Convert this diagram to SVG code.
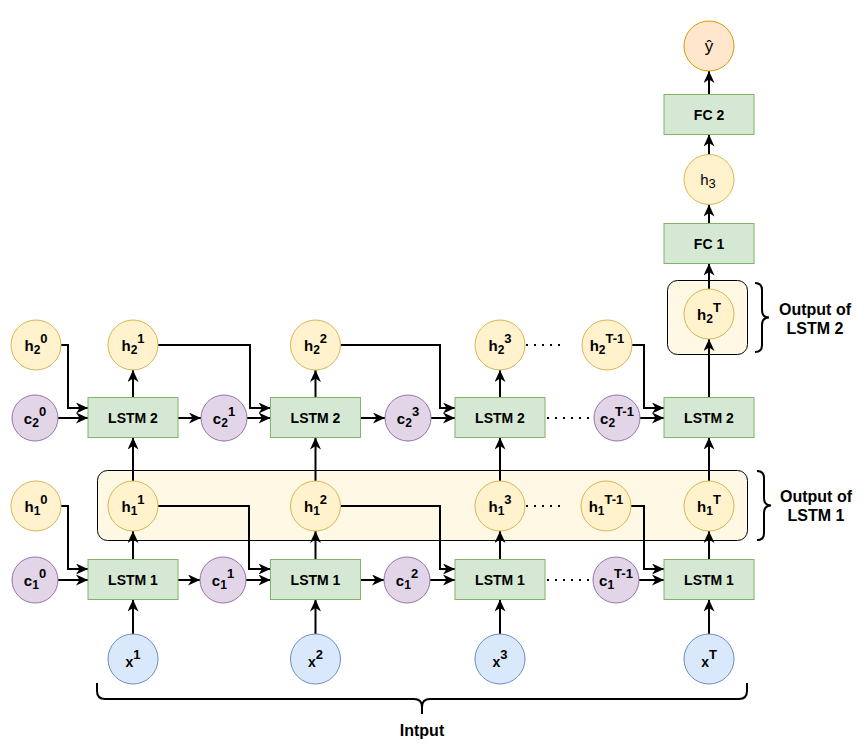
<svg xmlns="http://www.w3.org/2000/svg" width="867" height="751" viewBox="0 0 867 751">
<defs>
<style>
.bx{fill:#d5e8d4;stroke:#82b366;stroke-width:1}
.h{fill:#fff2cc;stroke:#d6b656;stroke-width:1}
.c{fill:#e1d5e7;stroke:#9673a6;stroke-width:1}
.x{fill:#dae8fc;stroke:#6c8ebf;stroke-width:1}
.y{fill:#ffe6cc;stroke:#d79b00;stroke-width:1}
.grp{fill:#fff8e5;stroke:#000;stroke-width:1}
.ln{fill:none;stroke:#000;stroke-width:2;marker-end:url(#arr)}
.dot{fill:none;stroke:#000;stroke-width:2;stroke-dasharray:2 6}
.br{fill:none;stroke:#000;stroke-width:2}
text{font-family:"Liberation Sans",Arial,sans-serif;font-weight:bold;font-size:14px;fill:#000;text-anchor:middle}
.lb{font-size:15px}
.sb{font-size:12px}
.sp{font-size:13px}
.big{font-size:16px}
.rg{font-weight:normal}
</style>
<marker id="arr" markerUnits="userSpaceOnUse" markerWidth="13" markerHeight="11" refX="12" refY="5.5" orient="auto">
<path d="M0,0 L12,5.5 L0,11 L3.5,5.5 Z" fill="#000"/>
</marker>
</defs>
<rect width="867" height="751" fill="#fff"/>

<g id="groups">
<rect id="out1box" class="grp" x="97.5" y="470.5" width="650" height="70" rx="10"/>
<rect id="out2box" class="grp" x="667.5" y="280.5" width="80" height="74" rx="10"/>
</g>

<g id="connectors">
<path class="ln" d="M61,345 H68 V408 H88"/>
<path class="ln" d="M58,418 H88"/>
<path class="ln" d="M133,397.5 V370"/>
<path class="ln" d="M178,418 H201"/>
<path class="ln" d="M158,345 H250 V408 H270.5"/>
<path class="ln" d="M247,418 H270.5"/>
<path class="ln" d="M315.5,397.5 V370"/>
<path class="ln" d="M360.5,418 H385"/>
<path class="ln" d="M340.5,345 H440 V408 H455"/>
<path class="ln" d="M431,418 H455"/>
<path class="ln" d="M500,397.5 V370"/>
<path class="dot" d="M526,345 H562"/>
<path class="dot" d="M547,418 H594"/>
<path class="ln" d="M632,345 H644 V408 H664"/>
<path class="ln" d="M640,418 H664"/>
<path class="ln" d="M709,397.5 V339"/>
<path class="ln" d="M709,289 V263.5"/>
<path class="ln" d="M709,223.5 V204.5"/>
<path class="ln" d="M709,154.5 V134.5"/>
<path class="ln" d="M709,94.5 V71"/>

<path class="ln" d="M61,506 H68 V569 H88"/>
<path class="ln" d="M58,580 H88"/>
<path class="ln" d="M133,559.5 V531"/>
<path class="ln" d="M133,481 V437.5"/>
<path class="ln" d="M178,580 H200"/>
<path class="ln" d="M158,506 H249 V569 H270.5"/>
<path class="ln" d="M246,580 H270.5"/>
<path class="ln" d="M315.5,559.5 V531"/>
<path class="ln" d="M315.5,481 V437.5"/>
<path class="ln" d="M360.5,580 H384"/>
<path class="ln" d="M340.5,506 H440 V569 H455"/>
<path class="ln" d="M430,580 H455"/>
<path class="ln" d="M500,559.5 V531"/>
<path class="ln" d="M500,481 V437.5"/>
<path class="dot" d="M526,506 H562"/>
<path class="dot" d="M547,580 H593"/>
<path class="ln" d="M631,506 H644 V569 H664"/>
<path class="ln" d="M639,580 H664"/>
<path class="ln" d="M709,559.5 V531"/>
<path class="ln" d="M709,481 V437.5"/>

<path class="ln" d="M133,634 V599.5"/>
<path class="ln" d="M315.5,634 V599.5"/>
<path class="ln" d="M500,634 V599.5"/>
<path class="ln" d="M709,634 V599.5"/>
</g>

<g id="lstm2_1"><rect class="bx" x="88" y="397.5" width="90" height="40"/><text x="133" y="422.5">LSTM 2</text></g>
<g id="lstm2_2"><rect class="bx" x="270.5" y="397.5" width="90" height="40"/><text x="315.5" y="422.5">LSTM 2</text></g>
<g id="lstm2_3"><rect class="bx" x="455" y="397.5" width="90" height="40"/><text x="500" y="422.5">LSTM 2</text></g>
<g id="lstm2_T"><rect class="bx" x="664" y="397.5" width="90" height="40"/><text x="709" y="422.5">LSTM 2</text></g>
<g id="lstm1_1"><rect class="bx" x="88" y="559.5" width="90" height="40"/><text x="133" y="584.5">LSTM 1</text></g>
<g id="lstm1_2"><rect class="bx" x="270.5" y="559.5" width="90" height="40"/><text x="315.5" y="584.5">LSTM 1</text></g>
<g id="lstm1_3"><rect class="bx" x="455" y="559.5" width="90" height="40"/><text x="500" y="584.5">LSTM 1</text></g>
<g id="lstm1_T"><rect class="bx" x="664" y="559.5" width="90" height="40"/><text x="709" y="584.5">LSTM 1</text></g>
<g id="fc1"><rect class="bx" x="664" y="223.5" width="90" height="40"/><text x="709" y="248.5">FC 1</text></g>
<g id="fc2"><rect class="bx" x="664" y="94.5" width="90" height="40"/><text x="709" y="119.5">FC 2</text></g>

<g id="yhat"><circle class="y" cx="709" cy="46" r="25"/><text class="rg" x="709" y="52" style="font-size:17px">ŷ</text></g>
<g id="h3"><circle class="h" cx="709" cy="179.5" r="25"/><text class="rg lb" x="708" y="185">h<tspan class="sp" dy="3">3</tspan></text></g>

<g id="h2_0"><circle class="h" cx="36" cy="345" r="25"/><text class="lb" x="36" y="351">h<tspan class="sb" dy="3">2</tspan><tspan class="sp" dy="-11">0</tspan></text></g>
<g id="h2_1"><circle class="h" cx="133" cy="345" r="25"/><text class="lb" x="133" y="351">h<tspan class="sb" dy="3">2</tspan><tspan class="sp" dy="-11">1</tspan></text></g>
<g id="h2_2"><circle class="h" cx="315.5" cy="345" r="25"/><text class="lb" x="315.5" y="351">h<tspan class="sb" dy="3">2</tspan><tspan class="sp" dy="-11">2</tspan></text></g>
<g id="h2_3"><circle class="h" cx="500" cy="345" r="25"/><text class="lb" x="500" y="351">h<tspan class="sb" dy="3">2</tspan><tspan class="sp" dy="-11">3</tspan></text></g>
<g id="h2_T1"><circle class="h" cx="607" cy="345" r="25"/><text class="lb" x="607" y="351">h<tspan class="sb" dy="3">2</tspan><tspan class="sp" dy="-11">T-1</tspan></text></g>
<g id="h2_T"><circle class="h" cx="709" cy="314" r="25"/><text class="lb" x="709" y="320">h<tspan class="sb" dy="3">2</tspan><tspan class="sp" dy="-11">T</tspan></text></g>

<g id="c2_0"><circle class="c" cx="35" cy="418" r="23"/><text class="lb" x="35" y="424">c<tspan class="sb" dy="3">2</tspan><tspan class="sp" dy="-11">0</tspan></text></g>
<g id="c2_1"><circle class="c" cx="224" cy="418" r="23"/><text class="lb" x="224" y="424">c<tspan class="sb" dy="3">2</tspan><tspan class="sp" dy="-11">1</tspan></text></g>
<g id="c2_3"><circle class="c" cx="408" cy="418" r="23"/><text class="lb" x="408" y="424">c<tspan class="sb" dy="3">2</tspan><tspan class="sp" dy="-11">3</tspan></text></g>
<g id="c2_T1"><circle class="c" cx="617" cy="418" r="23"/><text class="lb" x="617" y="424">c<tspan class="sb" dy="3">2</tspan><tspan class="sp" dy="-11">T-1</tspan></text></g>

<g id="h1_0"><circle class="h" cx="36" cy="506" r="25"/><text class="lb" x="36" y="512">h<tspan class="sb" dy="3">1</tspan><tspan class="sp" dy="-11">0</tspan></text></g>
<g id="h1_1"><circle class="h" cx="133" cy="506" r="25"/><text class="lb" x="133" y="512">h<tspan class="sb" dy="3">1</tspan><tspan class="sp" dy="-11">1</tspan></text></g>
<g id="h1_2"><circle class="h" cx="315.5" cy="506" r="25"/><text class="lb" x="315.5" y="512">h<tspan class="sb" dy="3">1</tspan><tspan class="sp" dy="-11">2</tspan></text></g>
<g id="h1_3"><circle class="h" cx="500" cy="506" r="25"/><text class="lb" x="500" y="512">h<tspan class="sb" dy="3">1</tspan><tspan class="sp" dy="-11">3</tspan></text></g>
<g id="h1_T1"><circle class="h" cx="606" cy="506" r="25"/><text class="lb" x="606" y="512">h<tspan class="sb" dy="3">1</tspan><tspan class="sp" dy="-11">T-1</tspan></text></g>
<g id="h1_T"><circle class="h" cx="709" cy="506" r="25"/><text class="lb" x="709" y="512">h<tspan class="sb" dy="3">1</tspan><tspan class="sp" dy="-11">T</tspan></text></g>

<g id="c1_0"><circle class="c" cx="35" cy="580" r="23"/><text class="lb" x="35" y="586">c<tspan class="sb" dy="3">1</tspan><tspan class="sp" dy="-11">0</tspan></text></g>
<g id="c1_1"><circle class="c" cx="223" cy="580" r="23"/><text class="lb" x="223" y="586">c<tspan class="sb" dy="3">1</tspan><tspan class="sp" dy="-11">1</tspan></text></g>
<g id="c1_2"><circle class="c" cx="407" cy="580" r="23"/><text class="lb" x="407" y="586">c<tspan class="sb" dy="3">1</tspan><tspan class="sp" dy="-11">2</tspan></text></g>
<g id="c1_T1"><circle class="c" cx="616" cy="580" r="23"/><text class="lb" x="616" y="586">c<tspan class="sb" dy="3">1</tspan><tspan class="sp" dy="-11">T-1</tspan></text></g>

<g id="x1"><circle class="x" cx="133" cy="659" r="25"/><text x="133" y="667">x<tspan class="sp" dy="-8">1</tspan></text></g>
<g id="x2"><circle class="x" cx="315.5" cy="659" r="25"/><text x="315.5" y="667">x<tspan class="sp" dy="-8">2</tspan></text></g>
<g id="x3"><circle class="x" cx="500" cy="659" r="25"/><text x="500" y="667">x<tspan class="sp" dy="-8">3</tspan></text></g>
<g id="xT"><circle class="x" cx="709" cy="659" r="25"/><text x="709" y="667">x<tspan class="sp" dy="-8">T</tspan></text></g>

<g id="brace2">
<path class="br" d="M755,283 Q762,283 762,290 L762,310 Q762,317.5 769,317.5 Q762,317.5 762,325 L762,345 Q762,352 755,352"/>
<text class="big" x="815" y="315">Output of</text>
<text class="big" x="815" y="334">LSTM 2</text>
</g>
<g id="brace1">
<path class="br" d="M757,471 Q764,471 764,478 L764,498 Q764,505.5 771,505.5 Q764,505.5 764,513 L764,533 Q764,540 757,540"/>
<text class="big" x="816" y="502">Output of</text>
<text class="big" x="816" y="521">LSTM 1</text>
</g>
<g id="inputBrace">
<path class="br" d="M97,683 L97,691 Q97,699 105,699 L414,699 Q422,699 422,707 L422,714 M422,707 Q422,699 430,699 L739,699 Q747,699 747,691 L747,683"/>
<text class="big" x="422" y="736">Intput</text>
</g>
</svg>
